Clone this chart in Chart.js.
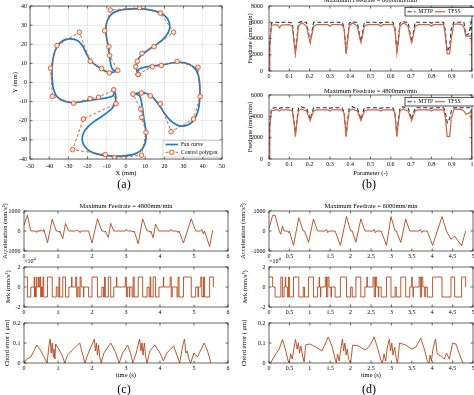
<!DOCTYPE html>
<html>
<head>
<meta charset="utf-8">
<script src="https://cdn.jsdelivr.net/npm/chart.js@4.4.1/dist/chart.umd.min.js"></script>
<style>
  body { margin: 0; background: #fff; }
  #fig { position: relative; width: 474px; height: 395px; overflow: hidden; }
  #fig canvas { position: absolute; }
  .tag { position: absolute; font: 12px 'Liberation Serif', serif; line-height: 1; transform: translate(-50%, -50%); }
</style>
</head>
<body>
<div id="fig">
  <canvas id="cA"></canvas>
  <canvas id="cB1"></canvas>
  <canvas id="cB2"></canvas>
  <canvas id="cC1"></canvas>
  <canvas id="cC2"></canvas>
  <canvas id="cC3"></canvas>
  <canvas id="cD1"></canvas>
  <canvas id="cD2"></canvas>
  <canvas id="cD3"></canvas>
  <div class="tag" style="left:124px;top:184px">(a)</div>
  <div class="tag" style="left:369px;top:184px">(b)</div>
  <div class="tag" style="left:124px;top:389px">(c)</div>
  <div class="tag" style="left:369px;top:389px">(d)</div>
</div>
<script>
// (a) fan curve, one list per blade (mm), traversed top -> left -> bottom -> right
const fanTop = [[6.0,5.0],[5.3,7.5],[5.6,10.5],[7.0,13.2],[9.5,15.5],[13.0,18.0],[16.5,20.3],[19.5,22.8],[21.8,25.8],[22.8,28.8],[22.3,32.0],[20.3,34.8],[17.0,36.8],[12.5,38.0],[7.0,38.5],[1.0,38.4],[-4.0,37.6],[-7.5,35.8],[-9.7,32.5],[-10.5,28.5],[-10.2,24.0],[-9.3,19.0],[-8.7,14.5],[-8.0,10.0],[-7.0,6.8]];
const fanLeft = [[-5.0,6.0],[-8.0,5.3],[-11.0,6.0],[-14.0,8.0],[-17.2,10.1],[-19.5,13.0],[-21.2,16.3],[-22.8,19.5],[-25.3,22.0],[-28.8,22.8],[-32.0,22.3],[-34.8,20.3],[-36.8,17.0],[-38.0,12.5],[-38.5,7.0],[-38.4,1.0],[-37.6,-4.0],[-35.8,-7.5],[-32.5,-9.7],[-28.5,-10.5],[-24.0,-10.2],[-19.0,-9.3],[-14.5,-8.7],[-10.0,-8.0],[-6.8,-7.0]];
const fanBottom = [[-6.0,-5.0],[-5.3,-7.5],[-5.6,-10.5],[-7.0,-13.2],[-9.5,-15.5],[-13.0,-18.0],[-16.5,-20.3],[-19.5,-22.8],[-21.8,-25.8],[-22.8,-28.8],[-22.3,-32.0],[-20.3,-34.8],[-17.0,-36.8],[-12.5,-38.0],[-7.0,-38.5],[-1.0,-38.4],[4.0,-37.6],[7.5,-35.8],[9.7,-32.5],[10.5,-28.5],[10.2,-24.0],[9.3,-19.0],[8.7,-14.5],[8.0,-10.0],[7.0,-6.8]];
const fanRight = [[5.0,-6.0],[7.5,-5.3],[10.5,-5.6],[13.2,-7.0],[15.5,-9.5],[18.0,-13.0],[20.3,-16.5],[22.8,-19.5],[25.8,-21.8],[28.8,-22.8],[32.0,-22.3],[34.8,-20.3],[36.8,-17.0],[38.0,-12.5],[38.5,-7.0],[38.4,-1.0],[37.6,4.0],[35.8,7.5],[32.5,9.7],[28.5,10.5],[24.0,10.2],[19.0,9.3],[14.5,8.7],[10.0,8.0],[6.8,7.0],[6.0,5.0]];

const ctrlTop = [[6.3,4.2],[5.0,8.3],[5.9,11.1],[8.3,15.2],[14.6,18.7],[24.8,26.3],[18.0,36.3],[7.1,39.1],[-8.2,37.9],[-11.1,27.1],[-8.9,18.8],[-8.5,14.1]];
const ctrlLeft = [[-4.3,6.3],[-8.7,5.0],[-12.7,7.3],[-18.6,11.1],[-24.3,26.3],[-35.9,19.3],[-39.3,7.5],[-38.3,-7.3],[-27.3,-10.8],[-18.7,-8.4],[-14.3,-7.7]];
const ctrlBottom = [[-6.4,-3.8],[-5.2,-11.1],[-22.2,-19.1],[-27.8,-35.1],[-10.8,-37.7],[-6.0,-39.3],[8.1,-38.0],[10.4,-26.1],[8.2,-18.3],[7.7,-13.9]];
const ctrlRight = [[3.6,-6.1],[8.0,-5.5],[12.7,-7.0],[17.9,-11.1],[23.5,-25.7],[35.2,-19.1],[38.6,-7.3],[37.5,8.0],[26.6,11.0],[18.4,8.9],[13.7,8.3],[6.3,4.2]];

// (b) feedrate (mm/min) against curve parameter
const paramB = [0,0.004,0.012,0.03,0.045,0.052,0.06,0.1,0.115,0.124,0.13,0.136,0.145,0.16,0.17,0.185,0.195,0.203,0.21,0.22,0.235,0.29,0.3,0.31,0.36,0.37,0.38,0.386,0.395,0.41,0.42,0.435,0.445,0.453,0.46,0.47,0.485,0.54,0.55,0.56,0.61,0.62,0.63,0.636,0.645,0.66,0.67,0.685,0.695,0.703,0.71,0.72,0.735,0.79,0.8,0.81,0.86,0.868,0.878,0.89,0.898,0.91,0.92,0.95,0.96,0.97,0.985,0.996,1.0];
const tfss6000 = [0,3000,5600,5700,5650,5300,5650,5700,5500,3400, 2100,3400,5500,5900,5800,5500,4300,3500,4300,5500, 5700,5700,5500,5700,5700,5200,2100,3400,5500,5900, 5800,5500,4300,3500,4300,5500,5700,5700,5500,5700, 5700,5200,2200,3400,5500,5900,5800,5500,4300,3500, 4300,5500,5700,5700,5500,5700,5700,4500,2100,2100, 4000,5700,5800,5700,5400,4300,4300,4300,0];
const mttp6000 = [0,3500,5900,6000,6000,5900,6000,6000,5900,3600, 2200,3600,5900,6100,6000,6000,4600,3600,4600,6000, 6000,6000,5900,6000,6000,5400,2200,3600,5900,6100, 6000,6000,4600,3600,4600,6000,6000,6000,5900,6000, 6000,5400,2300,3600,5900,6100,6000,6000,4600,3600, 4600,6000,6000,6000,5900,6000,6000,5000,2400,3000, 5200,6000,6000,6000,6000,4400,4600,6000,0];
const tfss4800 = [0,3000,4500,4600,4600,4500,4600,4600,4500,3300, 2100,3300,4500,4700,4600,4500,4000,3600,4000,4500, 4600,4600,4500,4600,4600,4300,2100,3300,4500,4700, 4600,4500,4000,3600,4000,4500,4600,4600,4500,4600, 4600,4300,2100,3300,4500,4700,4600,4500,4000,3600, 4000,4500,4600,4600,4500,4600,4600,4000,2100,2100, 3800,4600,4700,4600,4500,4200,4300,4500,0];
const mttp4800 = [0,3500,4750,4800,4800,4750,4800,4800,4750,3400, 2200,3400,4750,4900,4800,4800,4200,3700,4200,4800, 4800,4800,4750,4800,4800,4400,2200,3400,4750,4900, 4800,4800,4200,3700,4200,4800,4800,4800,4750,4800, 4800,4400,2200,3400,4750,4900,4800,4800,4200,3700, 4200,4800,4800,4800,4750,4800,4800,4500,3400,3800, 4500,4800,4800,4800,4800,4800,4800,4800,0];

// (c) 4800 mm/min: acceleration (mm/s^2), jerk (x10^4 mm/s^3), chord error (um)
const timeAccC = [0,0.1,0.2,0.34,0.36,0.38,0.47,0.49,0.51,0.56,0.58,0.6,0.69,0.83,0.95,1.0,1.03,1.05,1.14,1.22,1.32,1.52,1.55,1.58,1.62,1.65,1.68,1.9,2.0,2.16,2.29,2.34,2.37,2.39,2.48,2.55,2.64,2.98,3.01,3.04,3.18,3.21,3.24,3.36,3.49,3.62,3.68,3.71,3.73,3.8,3.87,3.97,4.3,4.33,4.36,4.5,4.53,4.56,4.69,4.92,5.05,5.2,5.23,5.25,5.28,5.31,5.46,5.55];
const accC = [300,790,0,0,-60,0,0,60,0,0,70,0,-590,590,0,0,-60,0,-380,380,0,0,60,0,0,-80,0,0,-600,610,0,0,-60,0,-320,380,0,0,80,0,0,-60,0,-640,610,0,0,-60,0,-340,340,0,0,80,0,0,-80,0,-600,610,0,0,80,0,-150,0,-780,30];
const timeJerkC = [0,0.1,0.2,0.3,0.31,0.32,0.34,0.36,0.38,0.43,0.44,0.47,0.49,0.51,0.53,0.54,0.56,0.58,0.69,0.83,0.95,1.0,1.03,1.05,1.14,1.22,1.32,1.4,1.41,1.52,1.55,1.58,1.62,1.65,1.68,1.75,1.76,1.9,2.0,2.16,2.29,2.34,2.37,2.39,2.48,2.55,2.64,2.72,2.73,2.98,3.01,3.04,3.1,3.11,3.18,3.21,3.24,3.36,3.49,3.62,3.68,3.71,3.73,3.8,3.87,3.97,4.1,4.11,4.3,4.33,4.36,4.5,4.53,4.56,4.69,4.92,5.05,5.12,5.13,5.2,5.23,5.28,5.31,5.46,5.57];
const jerkC = [1,-1,0,1,-1,0,-1,1,0,1,0,1,-1,0,-1,0,1,-1,1,-1,0,-1,1,-1,1,-1,0,1,0,1,-1,0,-1,1,0,-1,0,-1,1,-1,0,-1,1,-1,1,-1,0,1,0,1,-1,0,-1,0,-1,1,-1,1,-1,0,-1,1,-1,1,-1,0,1,0,1,-1,0,-1,1,-1,1,-1,0,-1,0,1,-1,1,-1,1,0];
const timeChordC = [0,0.08,0.2,0.38,0.5,0.62,0.68,0.73,0.77,0.8,0.83,0.86,0.88,0.91,0.93,1.02,1.12,1.2,1.28,1.45,1.64,1.73,1.79,1.85,1.92,2.07,2.1,2.13,2.16,2.19,2.23,2.27,2.35,2.55,2.7,2.8,2.9,3.05,3.15,3.2,3.3,3.4,3.44,3.47,3.5,3.54,3.58,3.62,3.7,3.85,4.0,4.1,4.2,4.4,4.52,4.58,4.66,4.72,4.76,4.8,4.85,4.9,5.0,5.1,5.3,5.4,5.5];
const chordC = [0,0.02,0.03,0.09,0.06,0.02,0,0.08,0.12,0.05,0.1,0.03,0.07,0.02,0.095,0.07,0.04,0,0.04,0.07,0.1,0.04,0,0.03,0.06,0.12,0.06,0.1,0.04,0.09,0.03,0,0.05,0.1,0.05,0,0.05,0.09,0.04,0,0.05,0.12,0.06,0.1,0.04,0.1,0.03,0,0.06,0.09,0.05,0.01,0.05,0.085,0.03,0,0.08,0.12,0.05,0.06,0.02,0,0.05,0.03,0.1,0.06,0];

// (d) 6000 mm/min
const timeAccD = [0,0.09,0.15,0.25,0.29,0.33,0.37,0.45,0.48,0.5,0.6,0.73,0.84,0.87,0.97,1.09,1.19,1.38,1.41,1.44,1.47,1.62,1.75,1.9,2.0,2.04,2.13,2.25,2.35,2.55,2.58,2.61,2.64,2.75,2.88,2.99,3.09,3.12,3.23,3.35,3.45,3.68,3.71,3.74,3.77,3.88,4.01,4.24,4.35,4.46,4.55,4.72,4.82];
const accD = [130,780,780,0,-160,240,0,0,-80,0,-720,660,0,0,-570,600,0,0,80,-80,0,0,-720,720,0,0,-560,600,0,0,80,-80,0,0,-720,720,0,0,-570,600,0,0,80,-80,0,0,-720,720,0,-420,-250,-740,0];
const timeJerkD = [0,0.09,0.15,0.29,0.33,0.37,0.4,0.41,0.45,0.48,0.5,0.6,0.73,0.84,0.87,0.97,1.09,1.19,1.23,1.24,1.26,1.27,1.38,1.41,1.44,1.47,1.52,1.53,1.62,1.75,1.9,2.0,2.04,2.13,2.25,2.35,2.4,2.41,2.55,2.58,2.61,2.64,2.68,2.69,2.75,2.88,2.99,3.09,3.12,3.23,3.35,3.45,3.5,3.51,3.53,3.54,3.68,3.71,3.74,3.77,3.82,3.83,3.88,4.01,4.24,4.46,4.55,4.72,4.82];
const jerkD = [1,0,-1,1,-1,0,1,0,-1,1,-1,1,-1,0,-1,1,-1,0,1,0,-1,0,1,-1,1,0,-1,0,-1,1,-1,0,-1,1,-1,0,1,0,1,-1,1,0,-1,0,-1,1,-1,0,-1,1,-1,0,1,0,-1,0,1,-1,1,0,-1,0,-1,1,-1,1,-1,1,0];
const timeChordD = [0,0.05,0.15,0.25,0.33,0.4,0.47,0.5,0.53,0.57,0.6,0.65,0.69,0.72,0.75,0.78,0.82,0.86,0.9,1.0,1.15,1.3,1.45,1.55,1.62,1.65,1.68,1.72,1.76,1.8,1.83,1.86,1.89,1.92,1.95,2.0,2.05,2.2,2.35,2.45,2.58,2.68,2.75,2.78,2.82,2.86,2.9,2.95,2.98,3.01,3.04,3.08,3.12,3.15,3.2,3.35,3.5,3.6,3.72,3.82,3.88,3.92,3.95,3.98,4.02,4.08,4.12,4.15,4.22,4.3,4.35,4.42,4.5,4.58,4.66,4.75];
const chordD = [0,0.005,0.04,0.07,0.118,0.07,0.01,0,0.045,0.02,0.06,0.118,0.07,0.1,0.05,0.085,0.04,0.005,0.09,0.095,0.08,0.06,0.13,0.08,0.02,0,0.045,0.01,0.07,0.12,0.06,0.1,0.04,0.07,0.02,0,0.09,0.085,0.065,0.08,0.13,0.06,0.01,0,0.045,0.01,0.08,0.12,0.06,0.1,0.04,0.08,0.02,0,0.1,0.09,0.07,0.08,0.125,0.06,0.01,0,0.04,0.01,0.07,0.12,0.05,0.04,0.035,0.02,0.05,0.02,0.1,0.095,0.05,0];

const SERIF = "'Liberation Serif', 'Times New Roman', serif";
const BLUE = '#1b7cc0', ORANGE = '#d9541e', NAVY = '#1f2d4d', SALMON = '#d4643f', BROWN = '#b4461a';

Chart.defaults.font.family = SERIF;
Chart.defaults.font.size = 6;
Chart.defaults.color = '#000';

const pairs = (list) => list.map(p => ({ x: p[0], y: p[1] }));
const zipXY = (xs, ys) => xs.map((x, i) => ({ x, y: ys[i] }));

// matlab-like frame with inward ticks on all four sides
const matlabBox = {
  id: 'matlabBox',
  afterDraw(chart) {
    const { ctx, chartArea: a, scales } = chart;
    const len = 2.5;
    ctx.save();
    ctx.strokeStyle = '#262626';
    ctx.lineWidth = 0.7;
    ctx.strokeRect(a.left, a.top, a.right - a.left, a.bottom - a.top);
    ctx.beginPath();
    scales.x.ticks.forEach((t, i) => {
      const px = scales.x.getPixelForTick(i);
      ctx.moveTo(px, a.bottom); ctx.lineTo(px, a.bottom - len);
      ctx.moveTo(px, a.top); ctx.lineTo(px, a.top + len);
    });
    scales.y.ticks.forEach((t, i) => {
      const py = scales.y.getPixelForTick(i);
      ctx.moveTo(a.left, py); ctx.lineTo(a.left + len, py);
      ctx.moveTo(a.right, py); ctx.lineTo(a.right - len, py);
    });
    ctx.stroke();
    ctx.restore();
  }
};

// free text (titles, exponent) in canvas coords; x:'mid' centres on the plot
function notes(items) {
  return {
    id: 'notes',
    afterDraw(chart) {
      const { ctx, chartArea: a } = chart;
      ctx.save();
      ctx.fillStyle = '#000';
      ctx.textBaseline = 'middle';
      items.forEach(n => {
        ctx.font = (n.size || 6.5) + 'px ' + SERIF;
        ctx.textAlign = n.align || 'center';
        ctx.fillText(n.text, n.x === 'mid' ? (a.left + a.right) / 2 : n.x, n.y);
      });
      ctx.restore();
    }
  };
}

// legend box drawn inside the axes, styles taken from the datasets
function legendBox(b) {
  return {
    id: 'legendBox',
    afterDraw(chart) {
      const ctx = chart.ctx;
      ctx.save();
      ctx.fillStyle = '#fff';
      ctx.fillRect(b.x, b.y, b.w, b.h);
      ctx.strokeStyle = b.edge;
      ctx.lineWidth = 0.7;
      ctx.strokeRect(b.x, b.y, b.w, b.h);
      b.items.forEach(it => {
        const ds = chart.data.datasets[it.ds];
        ctx.strokeStyle = ds.borderColor;
        ctx.lineWidth = ds.borderWidth;
        ctx.setLineDash(ds.borderDash || []);
        ctx.beginPath(); ctx.moveTo(it.x0, it.y); ctx.lineTo(it.x1, it.y); ctx.stroke();
        ctx.setLineDash([]);
        if (ds.pointRadius) {
          ctx.beginPath();
          ctx.arc((it.x0 + it.x1) / 2, it.y, ds.pointRadius, 0, Math.PI * 2);
          ctx.fillStyle = ds.pointBackgroundColor; ctx.fill();
          ctx.lineWidth = ds.pointBorderWidth; ctx.strokeStyle = ds.pointBorderColor; ctx.stroke();
        }
        ctx.fillStyle = '#000';
        ctx.font = '5.5px ' + SERIF;
        ctx.textAlign = 'left';
        ctx.textBaseline = 'middle';
        ctx.fillText(ds.label, it.tx, it.y);
      });
      ctx.restore();
    }
  };
}

function axis(o) {
  return {
    type: 'linear', min: o.min, max: o.max,
    ticks: { stepSize: o.step, padding: o.pad, autoSkip: false, maxRotation: 0, font: { size: 6 },
             callback: v => String(+v.toFixed(2)) },
    grid: { display: !!o.grid, color: '#dedede', lineWidth: 0.6, drawTicks: false },
    border: { display: false },
    title: { display: !!o.title, text: o.title || '', font: { size: 6.5 },
             padding: { top: o.tpad || 0, bottom: o.tpad || 0 } },
    afterFit(s) {
      if (s.isHorizontal()) s.height = o.size; else s.width = o.size;
      s.paddingLeft = s.paddingRight = s.paddingTop = s.paddingBottom = 0;
    }
  };
}

// box = canvas [left, top, w, h] in page px, plot = [L, T, R, B] in page px
function panel(id, box, plot, datasets, xs, ys, extra) {
  const [left, top, w, h] = box;
  const c = document.getElementById(id);
  c.width = w; c.height = h;
  c.style.left = left + 'px'; c.style.top = top + 'px';
  xs.size = top + h - plot[3];
  ys.size = plot[0] - left;
  return new Chart(c, {
    type: 'scatter',
    data: { datasets },
    options: {
      responsive: false, animation: false, events: [],
      layout: { padding: { top: plot[1] - top, right: left + w - plot[2], left: 0, bottom: 0 } },
      scales: { x: axis(xs), y: axis(ys) },
      plugins: { legend: { display: false }, tooltip: { enabled: false } }
    },
    plugins: [matlabBox].concat(extra || [])
  });
}

// ---- (a)
panel('cA', [0, 0, 237, 180], [30, 6, 222, 159], [
  { label: 'Fan curve', data: pairs(fanTop.concat(fanLeft, fanBottom, fanRight)), showLine: true,
    borderColor: BLUE, borderWidth: 1.7, pointRadius: 0, tension: 0.3, order: 2 },
  { label: 'Control polygon', data: pairs(ctrlTop.concat(ctrlLeft, ctrlBottom, ctrlRight)), showLine: true,
    borderColor: ORANGE, borderWidth: 0.9, borderDash: [3, 2], pointRadius: 2.3, pointBorderWidth: 0.9,
    pointBorderColor: ORANGE, pointBackgroundColor: '#fbe3d6', order: 1 }
], { min: -50, max: 50, step: 10, grid: true, pad: 3.5, title: 'X (mm)', tpad: 3.1 },
   { min: -40, max: 40, step: 10, grid: true, pad: 3, title: 'Y (mm)', tpad: 11.1 },
   [legendBox({ x: 163, y: 140.5, w: 58.5, h: 16.5, edge: '#bdbdbd', items: [
     { ds: 0, x0: 165.5, x1: 178, tx: 181, y: 144.5 },
     { ds: 1, x0: 165.5, x1: 178, tx: 181, y: 152.3 } ] })]);

// ---- (b)
function feedSets(mttp, tfss) {
  return [
    { label: 'MTTP', data: zipXY(paramB, mttp), showLine: true, borderColor: NAVY, borderWidth: 1.1,
      borderDash: [4, 2.5], pointRadius: 0, order: 2 },
    { label: 'TFSS', data: zipXY(paramB, tfss), showLine: true, borderColor: SALMON, borderWidth: 1.2,
      pointRadius: 0, order: 1 }
  ];
}
const feedLegend = (y) => legendBox({ x: 168, y: y - 4.4, w: 70, h: 8.7, edge: '#000', items: [
  { ds: 0, x0: 170.5, x1: 178.5, tx: 181.5, y },
  { ds: 1, x0: 198, x1: 208, tx: 211, y } ] });

panel('cB1', [237, 0, 237, 85], [269, 6, 472, 71], feedSets(mttp6000, tfss6000),
  { min: 0, max: 1, step: 0.1, pad: 2 },
  { min: 0, max: 8000, step: 2000, pad: 6, title: 'Feedrate (mm/min)', tpad: 9.1 },
  [feedLegend(11.7), notes([{ text: 'Maximum Feedrate = 6000mm/min', x: 'mid', y: 0.5 }])]);

panel('cB2', [237, 85, 237, 95], [269, 95, 472, 159], feedSets(mttp4800, tfss4800),
  { min: 0, max: 1, step: 0.1, pad: 2, title: 'Parameter (-)', tpad: 3.1 },
  { min: 0, max: 6000, step: 2000, pad: 6, title: 'Feedrate (mm/min)', tpad: 9.1 },
  [feedLegend(16.7), notes([{ text: 'Maximum Feedrate = 4800mm/min', x: 'mid', y: 6 }])]);

// ---- (c) and (d)
const trace = (xs, ys, stepped) => [{ data: zipXY(xs, ys), showLine: true, borderColor: BROWN,
  borderWidth: 0.9, pointRadius: 0, stepped: !!stepped }];

function timeColumn(prefix, left, plotL, plotR, tMax, tStep, title, acc, jerk, chord, titlePads) {
  const w = 237;
  const xt = { min: 0, max: tMax, step: tStep, pad: 2 };
  panel(prefix + '1', [left, 200, w, 62], [plotL, 211, plotR, 251], trace(acc[0], acc[1]),
    Object.assign({}, xt),
    { min: -1000, max: 1000, step: 1000, pad: 3.5, title: 'Acceleration (mm/s\u00b2)', tpad: titlePads[0] },
    [notes([{ text: title, x: 'mid', y: 6 }])]);
  panel(prefix + '2', [left, 256, w, 60], [plotL, 267, plotR, 307], trace(jerk[0], jerk[1], true),
    Object.assign({}, xt),
    { min: -2, max: 2, step: 2, pad: 3.5, title: 'Jerk (mm/s\u00b3)', tpad: titlePads[1] },
    [notes([{ text: '\u00d710', x: plotL - left, y: 5.5, align: 'left', size: 6 },
            { text: '4', x: plotL - left + 9.5, y: 3.3, align: 'left', size: 4.5 }])]);
  panel(prefix + '3', [left, 312, w, 68], [plotL, 323, plotR, 363], trace(chord[0], chord[1]),
    Object.assign({ title: 'time (s)', tpad: 0.4 }, xt),
    { min: 0, max: 0.2, step: 0.1, pad: 3.5, title: 'Chord error ( \u03bcm)', tpad: titlePads[2] });
}

timeColumn('cC', 0, 24, 228, 6, 1, 'Maximum Feedrate = 4800mm/min',
  [timeAccC, accC], [timeJerkC, jerkC], [timeChordC, chordC], [1.1, 4.4, 3.4]);
timeColumn('cD', 237, 269, 473, 5, 0.5, 'Maximum Feedrate = 6000mm/min',
  [timeAccD, accD], [timeJerkD, jerkD], [timeChordD, chordD], [2.1, 4.4, 3.4]);
</script>
</body>
</html>
